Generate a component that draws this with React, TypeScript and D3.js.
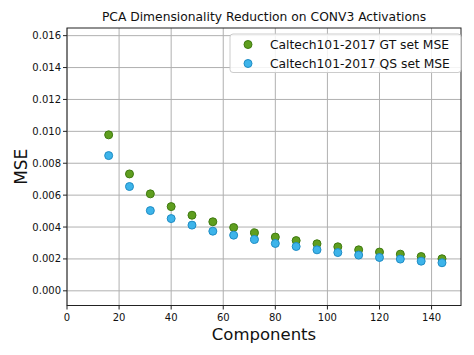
import React from "react";
import * as d3 from "d3";

const components = [16, 24, 32, 40, 48, 56, 64, 72, 80, 88, 96, 104, 112, 120, 128, 136, 144];
const gtMSE = [0.00978, 0.00733, 0.00608, 0.00528, 0.00474, 0.00433, 0.00397, 0.00364, 0.00337, 0.00315, 0.00295, 0.00276, 0.00257, 0.00243, 0.0023, 0.00215, 0.00201];
const qsMSE = [0.00848, 0.00654, 0.00503, 0.00453, 0.00412, 0.00374, 0.00349, 0.00322, 0.00297, 0.00278, 0.00257, 0.0024, 0.00224, 0.00209, 0.00199, 0.00186, 0.00176];
const xTicks = [0, 20, 40, 60, 80, 100, 120, 140];
const yTicks = [0, 0.002, 0.004, 0.006, 0.008, 0.01, 0.012, 0.014, 0.016];
const seriesNames = ["Caltech101-2017 GT set MSE", "Caltech101-2017 QS set MSE"];

const W = 474, H = 355;
const L = 67, R = 461, T = 28, B = 305.5;
const FONT = "DejaVu Sans, sans-serif";

export default function App() {
  const x = d3.scaleLinear().domain([0, 151.3]).range([L, R]);
  const y = d3.scaleLinear().domain([-0.00092, 0.01648]).range([B, T]);
  const series = [
    { name: seriesNames[0], values: gtMSE, fill: "#5f9e1f", stroke: "#3f7a10" },
    { name: seriesNames[1], values: qsMSE, fill: "#3db4ea", stroke: "#1f8cc4" },
  ];
  return (
    <svg width={W} height={H} style={{ position: "absolute", left: 0, top: 0, background: "#fff" }}>
      <rect x={0} y={0} width={W} height={H} fill="#fff" />
      {xTicks.map((t) => (
        <line key={"gx" + t} x1={x(t)} x2={x(t)} y1={T} y2={B} stroke="#b0b0b0" strokeWidth={1} />
      ))}
      {yTicks.map((t) => (
        <line key={"gy" + t} x1={L} x2={R} y1={y(t)} y2={y(t)} stroke="#b0b0b0" strokeWidth={1} />
      ))}
      {series.map((s) =>
        s.values.map((v, i) => (
          <circle key={s.name + i} cx={x(components[i])} cy={y(v)} r={4} fill={s.fill} stroke={s.stroke} strokeWidth={1} />
        ))
      )}
      <rect x={L} y={T} width={R - L} height={B - T} fill="none" stroke="#222" strokeWidth={1} />
      {xTicks.map((t) => (
        <g key={"tx" + t}>
          <line x1={x(t)} x2={x(t)} y1={B} y2={B + 4} stroke="#222" />
          <text x={x(t)} y={B + 15} textAnchor="middle" fontSize={10} fontFamily={FONT} fill="#111">{t}</text>
        </g>
      ))}
      {yTicks.map((t) => (
        <g key={"ty" + t}>
          <line x1={L - 4} x2={L} y1={y(t)} y2={y(t)} stroke="#222" />
          <text x={L - 6} y={y(t) + 3.5} textAnchor="end" fontSize={10} fontFamily={FONT} fill="#111">{t.toFixed(3)}</text>
        </g>
      ))}
      <text x={(L + R) / 2} y={21} textAnchor="middle" fontSize={12.3} fontFamily={FONT} fill="#111">
        PCA Dimensionality Reduction on CONV3 Activations
      </text>
      <text x={(L + R) / 2} y={340} textAnchor="middle" fontSize={16.5} fontFamily={FONT} fill="#111">Components</text>
      <text transform={`translate(27,${(T + B) / 2}) rotate(-90)`} textAnchor="middle" fontSize={17} fontFamily={FONT} fill="#111">MSE</text>
      <rect x={230} y={34} width={231} height={38.5} rx={3} fill="#fff" fillOpacity={0.85} stroke="#cccccc" />
      {series.map((s, i) => (
        <g key={"lg" + i}>
          <circle cx={248} cy={44.5 + i * 19} r={4} fill={s.fill} stroke={s.stroke} />
          <text x={270} y={49 + i * 19} fontSize={12.3} fontFamily={FONT} fill="#111">{s.name}</text>
        </g>
      ))}
    </svg>
  );
}
